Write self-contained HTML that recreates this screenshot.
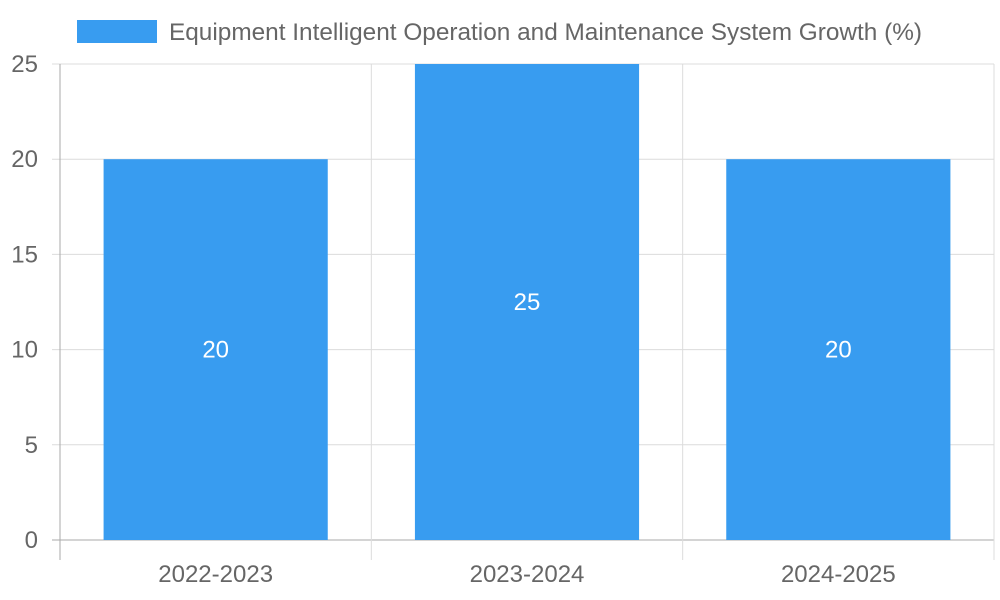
<!DOCTYPE html>
<html><head><meta charset="utf-8"><style>
html,body{margin:0;padding:0;background:#fff;}
svg{display:block;font-family:"Liberation Sans",sans-serif;}
</style></head><body>
<svg id="chart" width="1000" height="600">
<rect x="77" y="20" width="80" height="23" fill="#389cf0"/>
<text x="169" y="40" font-size="24" textLength="753" lengthAdjust="spacingAndGlyphs" fill="#666">Equipment Intelligent Operation and Maintenance System Growth (%)</text>
<g id="grid"></g><g id="bars"></g><g id="labels"></g>
</svg>
<script>
const categories=["2022-2023","2023-2024","2024-2025"];
const values=[20,25,20];
const yTicks=[0,5,10,15,20,25];
const NS="http://www.w3.org/2000/svg";
const L=60,R=994,T=64,B=540,yMax=25;
const y=v=>B-(v/yMax)*(B-T);
const cw=(R-L)/categories.length;
const x=i=>L+cw*i;
function mk(tag,attrs,parent,text){const e=document.createElementNS(NS,tag);for(const k in attrs)e.setAttribute(k,attrs[k]);if(text!==undefined)e.textContent=text;document.getElementById(parent).appendChild(e);return e;}
yTicks.forEach(t=>{
 const g=mk("line",{x1:L-8,x2:R,y1:y(t),y2:y(t),stroke:t===0?"#aaa":"#dcdcdc","stroke-width":1},"grid");
 
 
 const tx=mk("text",{x:L-22,y:y(t)+8,"font-size":24,fill:"#666","text-anchor":"end"},"labels",t);
 
 
});
for(let i=0;i<=categories.length;i++){
 const g=mk("line",{x1:x(i),x2:x(i),y1:T,y2:B+20,stroke:i===0?"#aaa":"#dcdcdc","stroke-width":1},"grid");
 
 
}
categories.forEach((c,i)=>{
 const bw=cw*0.72,bx=x(i)+(cw-bw)/2;
 const r=mk("rect",{x:bx,y:y(values[i]),width:bw,height:B-y(values[i]),fill:"#389cf0"},"bars");
 
 
 const v=mk("text",{x:bx+bw/2,y:(y(values[i])+B)/2+8,"font-size":24,fill:"#fff","text-anchor":"middle"},"labels",values[i]);
 
 
 const cl=mk("text",{x:x(i)+cw/2,y:582,"font-size":24,fill:"#666","text-anchor":"middle"},"labels",c);
 
 
});
</script>
</body></html>
